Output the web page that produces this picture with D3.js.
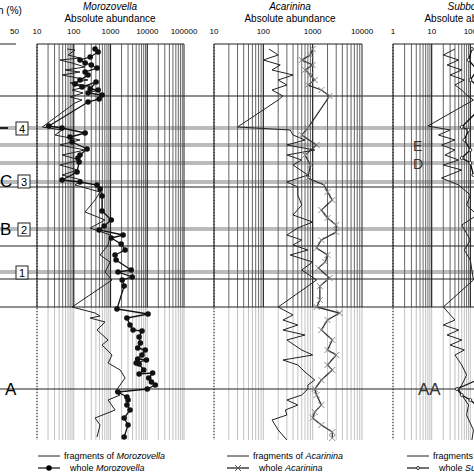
<!DOCTYPE html><html><head><meta charset="utf-8">
<script src="https://cdn.jsdelivr.net/npm/d3@7"></script>
<style>body{margin:0;background:#fff}svg{font-family:Arial,"Liberation Sans",sans-serif}</style></head><body>
<svg id="c" width="474" height="474"></svg>
<script>
// level = stratigraphic sample position (top 44 → bottom 440)
const moroWhole=[[49,380],[52,460],[57,280],[60,148],[63,204],[65,300],[68,430],[72,204],[75,245],[80,148],[84,108],[87,168],[82,405],[89,280],[90,460],[93,245],[95,590],[99,490],[102,245],[126,21],[128,48],[133,204],[137,79],[142,90],[149,230],[155,148],[158,130],[162,140],[172,123],[180,48],[182,148],[185,430],[189,520],[196,590],[211,590],[220,1050],[226,670],[230,490],[235,2200],[238,1050],[244,1950],[250,2500],[255,1330],[260,1420],[270,3650],[272,1600],[277,3900],[280,2080],[286,2350],[309,1500],[314,10500],[318,2800],[325,3400],[330,4100],[331,7200],[337,6000],[343,6500],[348,5500],[350,8800],[355,7200],[359,5500],[360,9500],[363,5000],[364,6000],[370,8000],[374,6000],[373,14000],[378,11000],[382,13000],[385,16500],[389,10000],[392,1600],[397,2800],[400,3000],[405,2800],[410,3400],[418,2350],[425,3000],[437,2350]];
const moroFrag=[[49,66],[50,108],[55,70],[58,148],[60,42],[63,90],[67,204],[70,58],[72,148],[75,48],[80,245],[83,79],[86,280],[90,90],[93,180],[97,79],[100,168],[103,108],[127,14],[130,48],[135,31],[140,148],[145,42],[150,204],[155,48],[160,148],[165,42],[170,130],[175,48],[180,168],[185,108],[192,520],[200,380],[212,204],[220,710],[228,280],[235,980],[245,860],[255,520],[262,980],[272,710],[280,1100],[307,90],[313,380],[316,520],[318,280],[322,710],[330,430],[340,860],[345,590],[355,1100],[363,860],[370,1830],[378,2500],[392,1330],[395,1830],[400,860],[410,1330],[418,380],[425,520],[437,430]];
const acaWhole=[[49,1000],[55,900],[60,600],[65,1000],[70,700],[75,900],[80,1100],[85,800],[90,1500],[96,2200],[128,800],[135,600],[145,1200],[155,700],[165,900],[178,800],[185,1700],[192,2000],[200,2500],[210,1500],[218,2000],[225,3000],[232,3000],[240,1500],[248,1200],[255,2000],[262,1800],[268,1300],[278,2200],[286,1400],[300,1400],[307,1200],[313,3500],[320,2000],[330,1500],[340,2500],[350,2000],[355,3000],[365,2000],[370,2500],[380,1500],[389,1100],[395,1200],[405,1500],[412,1100],[418,1000],[425,1500],[432,2500],[438,2500]];
const acaFrag=[[49,130],[55,200],[60,100],[65,220],[70,150],[75,400],[80,200],[85,300],[90,150],[96,250],[100,200],[127,30],[130,350],[135,400],[140,700],[145,300],[150,1100],[155,300],[160,600],[165,400],[175,800],[182,300],[187,500],[195,500],[205,600],[215,400],[222,1000],[228,500],[235,300],[240,600],[245,400],[250,800],[255,350],[262,1000],[270,600],[280,1200],[307,200],[315,400],[320,250],[325,500],[330,250],[335,700],[340,300],[350,600],[355,1000],[360,250],[365,500],[372,700],[380,1100],[385,800],[389,800],[395,600],[400,300],[405,500],[410,280],[415,300],[420,150],[430,200],[440,300]];
const subFrag=[[49,40],[55,20],[60,50],[65,25],[70,60],[75,30],[80,70],[85,40],[90,60],[95,80],[100,120],[126,8],[130,30],[135,15],[140,40],[145,18],[150,40],[155,22],[160,50],[165,20],[170,60],[178,18],[185,50],[195,100],[205,80],[215,150],[225,60],[240,100],[250,70],[260,100],[280,120],[307,20],[320,40],[325,20],[330,50],[335,25],[340,60],[345,30],[350,70],[355,40],[365,60],[375,80],[385,60],[389,50],[395,60],[405,90],[415,80],[430,120],[440,110]];
const subWhole=[[49,110],[60,90],[70,150],[80,100],[90,200],[100,300],[127,60],[130,90],[140,70],[150,100],[158,60],[163,100],[175,120],[185,200],[195,400],[307,300],[380,150],[389,45],[395,60],[400,100],[410,200]];
const hDark=[96,187,246,279,307,389];
const hGray=[128,145,163,182,229,272];
const moroTicks=[10,100,1000,10000,100000], acaTicks=[10,100,1000,10000], subTicks=[1,10,100];

const svg=d3.select("#c");
const y=d3.scaleLinear().domain([44,440]).range([44,440]);
const panels=[
 {x:d3.scaleLog().domain([10,100000]).range([37,184]),ticks:moroTicks,name:"Morozovella",cx:110,frag:moroFrag,whole:moroWhole,mk:"dot",lx:38},
 {x:d3.scaleLog().domain([10,10000]).range([214,362]),ticks:acaTicks,name:"Acarinina",cx:290,frag:acaFrag,whole:acaWhole,mk:"cross",lx:227},
 {x:d3.scaleLog().domain([1,1000]).range([393,509]),ticks:subTicks,name:"Subbotina",cx:470,frag:subFrag,whole:subWhole,mk:"small",lx:407}
];
hGray.forEach(v=>svg.append("line").attr("x1",0).attr("x2",474).attr("y1",y(v)).attr("y2",y(v)).attr("stroke","#bbb").attr("stroke-width",4));
panels.forEach(p=>{
  const [d0,d1]=p.x.domain();
  const g=svg.append("g");
  for(let e=Math.log10(d0);e<Math.log10(d1);e++){
    for(let m=1;m<=9;m++){const v=m*Math.pow(10,e);const X=p.x(v);
      g.append("line").attr("x1",X).attr("x2",X).attr("y1",44).attr("y2",307).attr("stroke",m==1?"#222":"#555").attr("stroke-width",m==1?1.2:0.9);
      g.append("line").attr("x1",X).attr("x2",X).attr("y1",307).attr("y2",440).attr("stroke","#bbb").attr("stroke-width",0.9);}
  }
  const X1=p.x(d1);
  g.append("line").attr("x1",X1).attr("x2",X1).attr("y1",44).attr("y2",307).attr("stroke","#222");
  g.append("line").attr("x1",X1).attr("x2",X1).attr("y1",307).attr("y2",440).attr("stroke","#bbb");
  g.append("line").attr("x1",p.x.range()[0]).attr("x2",X1).attr("y1",44).attr("y2",44).attr("stroke","#222").attr("stroke-width",1.2);
  g.append("line").attr("x1",p.x(d0)).attr("x2",p.x(d0)).attr("y1",44).attr("y2",440).attr("stroke","#222").attr("stroke-width",1).attr("stroke-dasharray","1,2");
  p.ticks.forEach(t=>svg.append("text").attr("x",p.x(t)).attr("y",34).attr("text-anchor","middle").attr("font-size",8).text(t));
  svg.append("text").attr("x",p.cx).attr("y",10).attr("text-anchor","middle").attr("font-size",10).attr("font-style","italic").text(p.name);
  svg.append("text").attr("x",p.cx).attr("y",22).attr("text-anchor","middle").attr("font-size",10).text("Absolute abundance");
});
hDark.forEach(v=>svg.append("line").attr("x1",0).attr("x2",474).attr("y1",y(v)).attr("y2",y(v)).attr("stroke","#222").attr("stroke-width",1.2));
panels.forEach(p=>{
  const line=d3.line().x(d=>p.x(d[1])).y(d=>y(d[0]));
  svg.append("path").attr("d",line(p.frag)).attr("fill","none").attr("stroke","#222").attr("stroke-width",1);
  const wc=p.mk=="cross"?"#333":"#111";
  svg.append("path").attr("d",line(p.whole)).attr("fill","none").attr("stroke",wc).attr("stroke-width",1.3);
  p.whole.forEach(d=>{const X=p.x(d[1]),Y=y(d[0]);
    if(p.mk=="dot")svg.append("circle").attr("cx",X).attr("cy",Y).attr("r",2.8).attr("fill","#111");
    else if(p.mk=="cross")svg.append("path").attr("d",`M${X-3},${Y-3}L${X+3},${Y+3}M${X-3},${Y+3}L${X+3},${Y-3}`).attr("stroke","#888").attr("stroke-width",1);
    else svg.append("circle").attr("cx",X).attr("cy",Y).attr("r",1.5).attr("fill","#fff").attr("stroke","#333");});
  svg.append("line").attr("x1",p.lx).attr("x2",p.lx+22).attr("y1",456).attr("y2",456).attr("stroke","#222");
  svg.append("text").attr("x",p.lx+26).attr("y",459).attr("font-size",9).html(`fragments of <tspan font-style="italic">${p.name}</tspan>`);
  svg.append("line").attr("x1",p.lx).attr("x2",p.lx+22).attr("y1",468).attr("y2",468).attr("stroke","#222").attr("stroke-width",1.3);
  const X=p.lx+11;
  if(p.mk=="dot")svg.append("circle").attr("cx",X).attr("cy",468).attr("r",2.8);
  else if(p.mk=="cross")svg.append("path").attr("d",`M${X-3},465L${X+3},471M${X-3},471L${X+3},465`).attr("stroke","#555");
  else svg.append("circle").attr("cx",X).attr("cy",468).attr("r",1.5).attr("fill","#fff").attr("stroke","#333");
  svg.append("text").attr("x",p.lx+32).attr("y",471).attr("font-size",9).html(`whole <tspan font-style="italic">${p.name}</tspan>`);
});
svg.append("text").attr("x",-2).attr("y",14).attr("font-size",10).text("n (%)");
svg.append("text").attr("x",10).attr("y",34).attr("font-size",8).text("50");
svg.append("line").attr("x1",0).attr("x2",16).attr("y1",44).attr("y2",44).attr("stroke","#222");
svg.append("line").attr("x1",0).attr("x2",8).attr("y1",y(128)).attr("y2",y(128)).attr("stroke","#222").attr("stroke-width",2);
const boxes=[["4",128,16],["3",181,18],["2",229,18],["1",272,16]];
boxes.forEach(([t,v,x])=>{svg.append("rect").attr("x",x).attr("y",y(v)-6).attr("width",12).attr("height",13).attr("fill","#fff").attr("stroke","#222");
  svg.append("text").attr("x",x+6).attr("y",y(v)+4.5).attr("text-anchor","middle").attr("font-size",11).text(t);});
[["C",0,181],["B",0,229],["A",5,389]].forEach(([t,x,v])=>svg.append("text").attr("x",x).attr("y",y(v)+6).attr("font-size",17).text(t));
[["E",413,146],["D",413,164],["AA",418,389]].forEach(([t,x,v])=>svg.append("text").attr("x",x).attr("y",y(v)+(t=="AA"?6:5)).attr("font-size",t=="AA"?17:14).attr("fill","#333").text(t));
</script></body></html>
